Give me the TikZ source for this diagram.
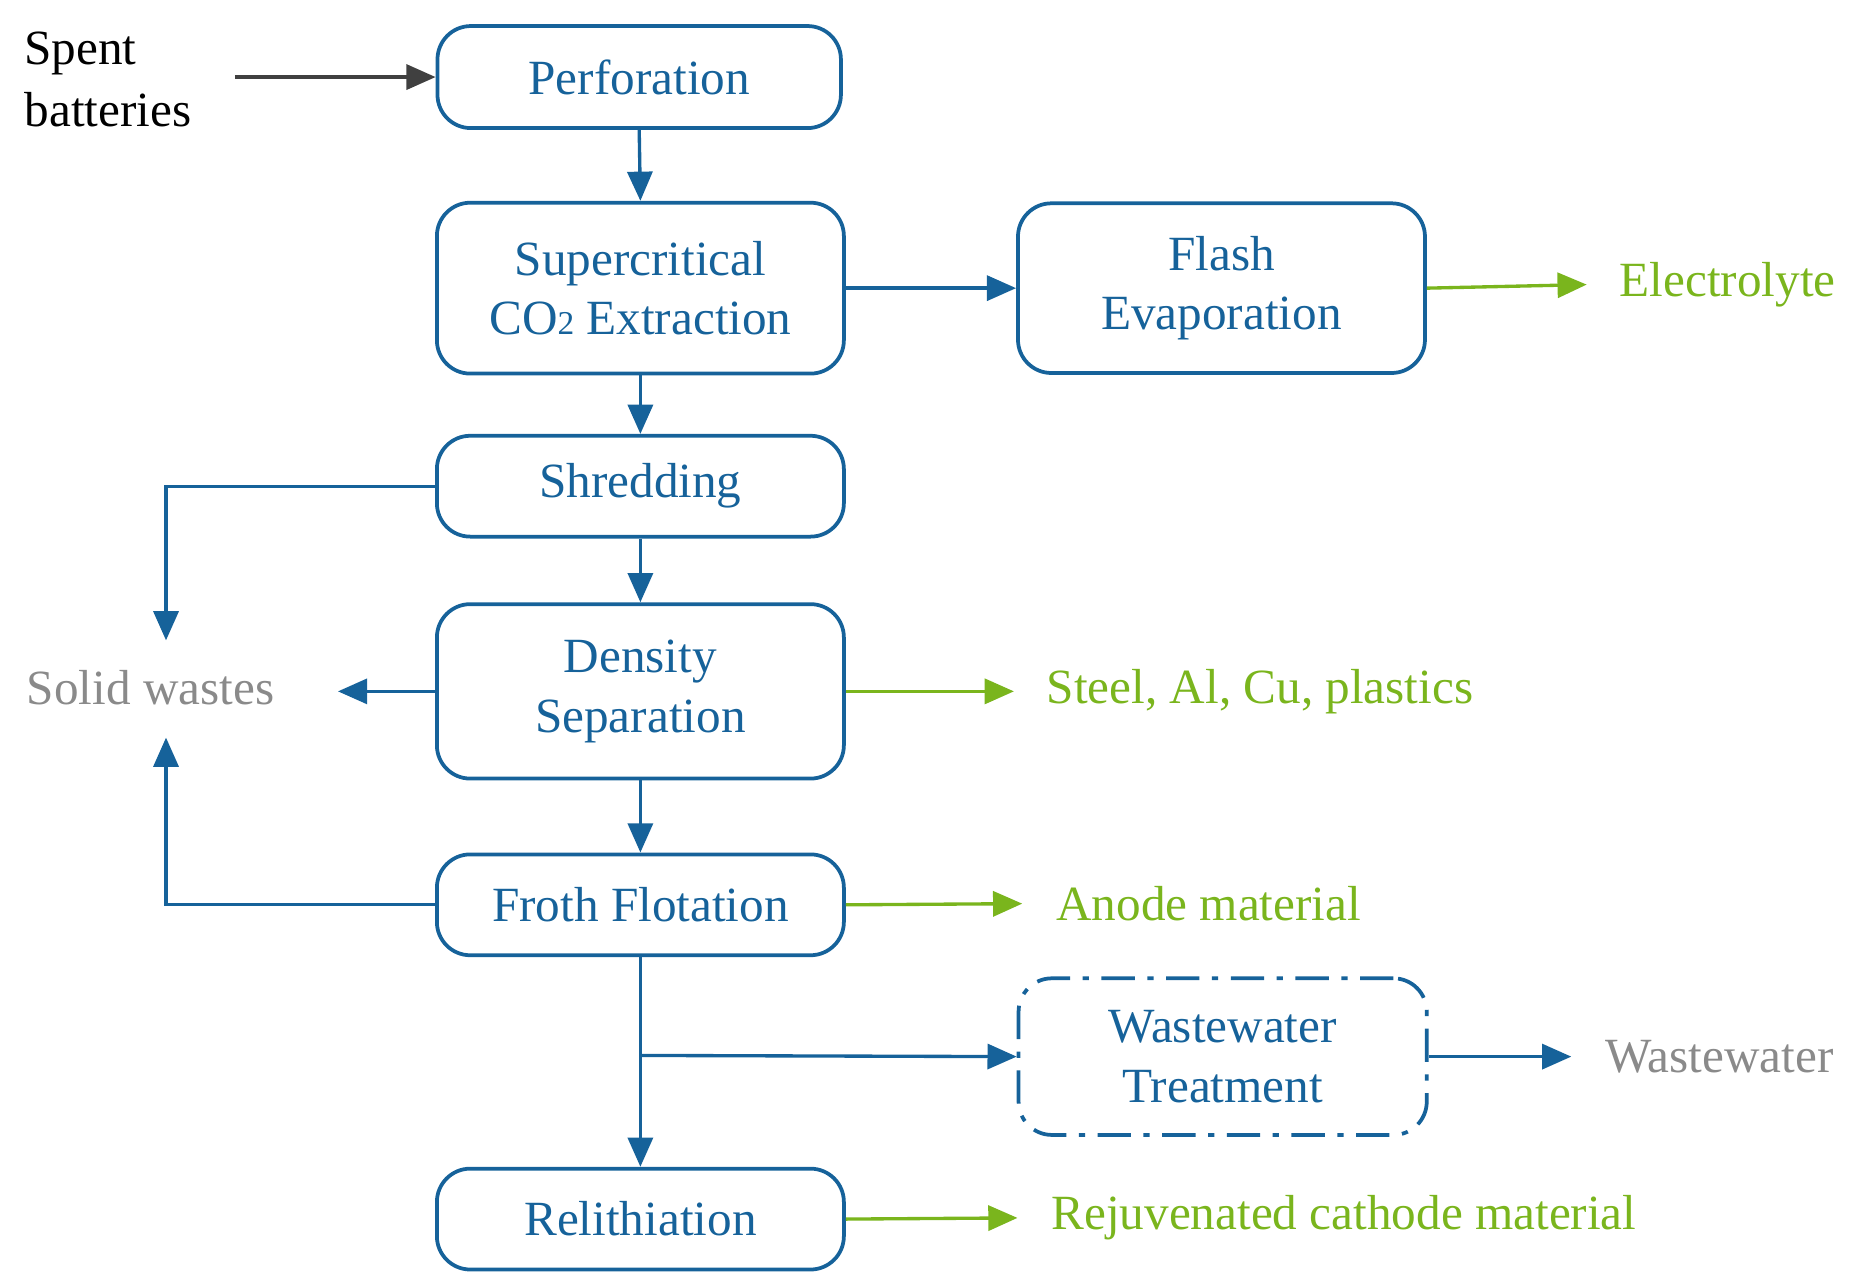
\documentclass[tikz,border=0pt]{standalone}
\usepackage{fontspec}
\setmainfont{Liberation Serif}
\usetikzlibrary{arrows.meta}
\definecolor{bl}{HTML}{16629A}
\definecolor{gr}{HTML}{7AB51D}
\definecolor{gy}{HTML}{8A8A8A}
\begin{document}
\begin{tikzpicture}[x=0.01cm,y=-0.01cm,
 box/.style={draw=bl,line width=0.9pt,rounded corners=8pt,text=bl,align=center,font=\fontsize{11.8}{14.3}\selectfont,inner sep=0pt},
 ba/.style={draw=bl,line width=0.8pt,-{Triangle[length=7pt,width=6pt]}},
 ga/.style={draw=gr,line width=0.8pt,-{Triangle[length=7pt,width=6pt]}},
 lab/.style={font=\fontsize{11.8}{14.3}\selectfont,anchor=west,inner sep=0pt}]
\useasboundingbox (0,0) rectangle (1560,1074);
\node[box,minimum width=3.4cm,minimum height=0.86cm] (perf) at (539,65) {Perforation};
\node[box,minimum width=3.43cm,minimum height=1.44cm] (sc) at (540,243) {Supercritical\\CO{\fontsize{8}{8}\selectfont 2} Extraction};
\node[box,minimum width=3.43cm,minimum height=1.43cm] (fl) at (1030,243) {Flash\\Evaporation};
\node[box,minimum width=3.43cm,minimum height=0.85cm] (sh) at (540,410) {Shredding};
\node[box,minimum width=3.43cm,minimum height=1.47cm] (ds) at (540,583) {Density\\Separation};
\node[box,minimum width=3.43cm,minimum height=0.85cm] (ff) at (540,763) {Froth Flotation};
\node[box,dash pattern=on 8pt off 3pt on 1.5pt off 3pt,minimum width=3.44cm,minimum height=1.32cm] (ww) at (1031,891) {Wastewater\\Treatment};
\node[box,minimum width=3.43cm,minimum height=0.85cm] (rl) at (540,1028) {Relithiation};
\node[lab,align=left,font=\fontsize{11.8}{14.8}\selectfont] (sb) at (20,67) {Spent\\batteries};
\node[lab,text=gr] (el) at (1365,240) {Electrolyte};
\node[lab,text=gy] (sw) at (22,580) {Solid wastes};
\node[lab,text=gr] (st) at (882,583) {Steel, Al, Cu, plastics};
\node[lab,text=gr] (an) at (890,762) {Anode material};
\node[lab,text=gy] (wt) at (1353,891) {Wastewater};
\node[lab,text=gr] (rj) at (886,1027) {Rejuvenated cathode material};
\coordinate (sbE) at (198,65);
\coordinate (swT) at (140,540);
\coordinate (swB) at (140,622);
\coordinate (swR) at (285,583);
\coordinate (br) at (540,890);
\draw[line width=0.8pt,draw=black!75,-{Triangle[length=7pt,width=6pt]}] (sbE) -- (perf.west);
\draw[ba] (perf.south) -- (sc.north);
\draw[ba] (sc.east) -- (fl.west);
\draw[ga] (fl.east) -- ([xshift=-0.27cm]el.west);
\draw[ba] (sc.south) -- (sh.north);
\draw[ba] (sh.south) -- (ds.north);
\draw[ba] (sh.west) -| (swT);
\draw[ba] (ds.west) -- (swR);
\draw[ga] (ds.east) -- ([xshift=-0.27cm]st.west);
\draw[ba] (ds.south) -- (ff.north);
\draw[ba] (ff.west) -| (swB);
\draw[ga] (ff.east) -- ([xshift=-0.28cm]an.west);
\draw[ba] (ff.south) -- (rl.north);
\draw[ba] (br) -- (ww.west);
\draw[ba] (ww.east) -- ([xshift=-0.28cm]wt.west);
\draw[ga] (rl.east) -- ([xshift=-0.28cm]rj.west);
\end{tikzpicture}
\end{document}
